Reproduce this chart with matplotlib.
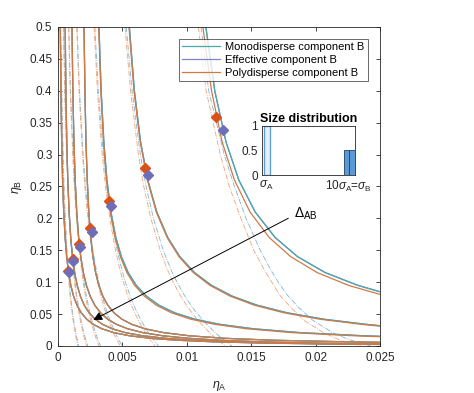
import matplotlib
matplotlib.use("Agg")
import matplotlib.pyplot as plt
from matplotlib.lines import Line2D

plt.rcParams['font.family'] = ['Liberation Sans', 'DejaVu Sans']
plt.rcParams['mathtext.fontset'] = 'custom'
plt.rcParams['mathtext.rm'] = 'Liberation Sans'
plt.rcParams['mathtext.it'] = 'Liberation Sans:italic'
plt.rcParams['mathtext.bf'] = 'Liberation Sans:bold'

# ---------------- data ----------------
# binodal curves (solid), y values shared by most families
y_bin = [0.5, 0.4, 0.32, 0.26, 0.21, 0.17, 0.14, 0.115, 0.095, 0.078, 0.064,
         0.052, 0.042, 0.034, 0.027, 0.021, 0.016, 0.012, 0.009, 0.0065, 0.0045, 0.003]

f1_x = [0.000176, 0.000224, 0.000285, 0.000354, 0.000443, 0.00055, 0.000671, 0.000819,
        0.000992, 0.001209, 0.001471, 0.001805, 0.002225, 0.00273, 0.003406, 0.004319,
        0.005558, 0.007211, 0.009276, 0.012181, 0.016248, 0.02167, 0.025]
f1_y = y_bin + [0.0024]
f2_x = [0.000555, 0.000611, 0.00068, 0.00076, 0.000861, 0.000984, 0.001123, 0.001292,
        0.00149, 0.001736, 0.002034, 0.002412, 0.002886, 0.003453, 0.004207, 0.005218,
        0.006575, 0.00836, 0.010549, 0.013555, 0.017623, 0.022811, 0.025]
f2_y = y_bin + [0.00256]
f3_x = [0.001085, 0.001152, 0.001236, 0.001332, 0.001453, 0.001601, 0.001766, 0.001968,
        0.002205, 0.002498, 0.002852, 0.0033, 0.003859, 0.004526, 0.005406, 0.006578,
        0.008135, 0.010154, 0.01259, 0.01586, 0.02016, 0.025]
f3_y = y_bin[:21] + [0.0031]
f4_x = [0.00202, 0.00209, 0.00217, 0.00227, 0.00239, 0.00254, 0.00271, 0.00292, 0.00317,
        0.00348, 0.00386, 0.00435, 0.00496, 0.00572, 0.00675, 0.00818, 0.01019, 0.013,
        0.01675, 0.02252, 0.025]
f4_y = y_bin[:20] + [0.00581]
f5_poly_x = [0.00316, 0.00332, 0.00353, 0.00376, 0.00406, 0.00443, 0.00484, 0.00535, 0.00595,
             0.00671, 0.00763, 0.00881, 0.01031, 0.01215, 0.01465, 0.01812, 0.023, 0.025]
f5_poly_y = y_bin[:17] + [0.01458]
f5_mono_x = [0.00318, 0.00335, 0.00356, 0.0038, 0.00411, 0.00449, 0.00492, 0.00545, 0.00608,
             0.00687, 0.00783, 0.00906, 0.01062, 0.01254, 0.01516, 0.01879, 0.02379, 0.025]
f5_mono_y = y_bin[:17] + [0.0152]
f6_poly_x = [0.00551, 0.0059, 0.00638, 0.00694, 0.00763, 0.00847, 0.00939, 0.01051, 0.0118,
             0.01338, 0.01524, 0.01755, 0.02033, 0.02353, 0.025]
f6_poly_y = y_bin[:14] + [0.0311]
f6_mono_x = [0.00554, 0.00593, 0.00641, 0.00697, 0.00767, 0.00852, 0.00946, 0.0106, 0.01192,
             0.01354, 0.01545, 0.0178, 0.02063, 0.0239, 0.025]
f6_mono_y = y_bin[:14] + [0.0318]
f7_poly_x = [0.01125, 0.01192, 0.01274, 0.0137, 0.01491, 0.0164, 0.01807, 0.02013, 0.02256, 0.025]
f7_poly_y = y_bin[:9] + [0.0809]
f7_mono_x = [0.01148, 0.01217, 0.01304, 0.01404, 0.01531, 0.01686, 0.0186, 0.02075, 0.02329, 0.025]
f7_mono_y = y_bin[:9] + [0.0850]

# spinodal-like dash-dot curves
y_sp = [0.5, 0.4, 0.3, 0.25, 0.2, 0.15, 0.12, 0.1, 0.08, 0.06, 0.04, 0.02, 0.01, 0.0]
sp1_mono = [0.00021, 0.00029, 0.0004, 0.00047, 0.00057, 0.0007, 0.0008, 0.00088, 0.00097, 0.00108, 0.00122, 0.00139, 0.00149, 0.0016]
sp1_poly = [0.0002, 0.00027, 0.00038, 0.00045, 0.00055, 0.00067, 0.00077, 0.00084, 0.00093, 0.00104, 0.00117, 0.00134, 0.00143, 0.00154]
sp2_mono = [0.00043, 0.00053, 0.00068, 0.00078, 0.00091, 0.00109, 0.00122, 0.00133, 0.00145, 0.00161, 0.00179, 0.00201, 0.00215, 0.0023]
sp2_poly = [0.00042, 0.00052, 0.00066, 0.00076, 0.00088, 0.00105, 0.00118, 0.00128, 0.00141, 0.00155, 0.00173, 0.00195, 0.00207, 0.00222]
sp3_mono = [0.00084, 0.00097, 0.00117, 0.0013, 0.00147, 0.0017, 0.00188, 0.00202, 0.00219, 0.00239, 0.00263, 0.00292, 0.0031, 0.0033]
sp3_poly = [0.00082, 0.00095, 0.00114, 0.00126, 0.00143, 0.00165, 0.00182, 0.00195, 0.00211, 0.0023, 0.00253, 0.00282, 0.00299, 0.00318]
sp4_mono = [0.00148, 0.00167, 0.00195, 0.00214, 0.00239, 0.00271, 0.00297, 0.00317, 0.00341, 0.00369, 0.00404, 0.00446, 0.00471, 0.005]
sp4_poly = [0.00145, 0.00163, 0.0019, 0.00208, 0.00232, 0.00263, 0.00288, 0.00307, 0.0033, 0.00358, 0.00391, 0.00431, 0.00456, 0.00483]
sp5_mono = [0.00286, 0.00313, 0.00352, 0.00379, 0.00413, 0.00459, 0.00495, 0.00523, 0.00557, 0.00597, 0.00645, 0.00704, 0.0074, 0.0078]
sp5_poly = [0.0028, 0.00306, 0.00343, 0.00369, 0.00402, 0.00446, 0.0048, 0.00507, 0.00539, 0.00577, 0.00624, 0.00681, 0.00715, 0.00753]
sp6_mono = [0.0053, 0.00575, 0.00639, 0.00684, 0.00741, 0.00817, 0.00876, 0.00924, 0.00979, 0.01045, 0.01126, 0.01225, 0.01283, 0.0135]
sp6_poly = [0.0052, 0.00563, 0.00624, 0.00666, 0.00721, 0.00793, 0.00849, 0.00894, 0.00947, 0.0101, 0.01087, 0.01181, 0.01237, 0.013]
sp7_mono = [0.0111, 0.0117, 0.0129, 0.0137, 0.0146, 0.0157, 0.0165, 0.0171, 0.0178, 0.0187, 0.0198, 0.0214, 0.0226, 0.0243]
sp7_poly = [0.0109, 0.0115, 0.0126, 0.0133, 0.0142, 0.0152, 0.016, 0.0166, 0.0172, 0.0181, 0.0191, 0.0207, 0.0218, 0.0235]

# critical points
crit_poly_x = [0.0008, 0.00114, 0.00165, 0.00248, 0.00394, 0.00673, 0.01229]
crit_poly_y = [0.1176, 0.1368, 0.1599, 0.1850, 0.2278, 0.2795, 0.3594]
crit_eff_x = [0.00083, 0.00119, 0.00173, 0.00262, 0.00414, 0.00697, 0.01279]
crit_eff_y = [0.1160, 0.1338, 0.1557, 0.1793, 0.2194, 0.2675, 0.3386]

# inset size distribution
size_pos = [1.15, 9.95, 10.55]
size_frac = [1.0, 0.5, 0.5]
size_ticks = [1.1, 10.2]
size_labels = [r'$\sigma_{\rm A}$', r'10$\sigma_{\rm A}$=$\sigma_{\rm B}$']

x_ticks = [0, 0.005, 0.01, 0.015, 0.02, 0.025]
x_ticklabels = ['0', '0.005', '0.01', '0.015', '0.02', '0.025']
y_ticks = [0, 0.05, 0.1, 0.15, 0.2, 0.25, 0.3, 0.35, 0.4, 0.45, 0.5]
y_ticklabels = ['0', '0.05', '0.1', '0.15', '0.2', '0.25', '0.3', '0.35', '0.4', '0.45', '0.5']

# ---------------- styling ----------------
c_mono = '#4BA9AC'
c_eff = '#8282C8'
c_poly = '#CF7A46'
c_sp_mono = '#7FB6D2'
c_sp_poly = '#EFA57A'
dark = '#262626'

fig = plt.figure(figsize=(4.74, 3.93), dpi=100)
ax = fig.add_axes([0.1224, 0.1196, 0.6793, 0.8117])

sp_mono = [sp1_mono, sp2_mono, sp3_mono, sp4_mono, sp5_mono, sp6_mono, sp7_mono]
sp_poly = [sp1_poly, sp2_poly, sp3_poly, sp4_poly, sp5_poly, sp6_poly, sp7_poly]
for xm, xp in zip(sp_mono, sp_poly):
    ax.plot(xm, y_sp, linestyle='-.', color=c_sp_mono, lw=0.6)
    ax.plot(xp, y_sp, linestyle='-.', color=c_sp_poly, lw=0.6)

mono_curves = [(f1_x, f1_y), (f2_x, f2_y), (f3_x, f3_y), (f4_x, f4_y),
               (f5_mono_x, f5_mono_y), (f6_mono_x, f6_mono_y), (f7_mono_x, f7_mono_y)]
poly_curves = [(f1_x, f1_y), (f2_x, f2_y), (f3_x, f3_y), (f4_x, f4_y),
               (f5_poly_x, f5_poly_y), (f6_poly_x, f6_poly_y), (f7_poly_x, f7_poly_y)]
for (xm, ym) in mono_curves:
    ax.plot(xm, ym, color=c_eff, lw=0.9)
    ax.plot(xm, ym, color=c_mono, lw=0.9)
for (xp, yp) in poly_curves:
    ax.plot(xp, yp, color=c_poly, lw=0.9)

ax.plot(crit_poly_x, crit_poly_y, linestyle='none', marker='D', ms=5,
        mfc='#D95319', mec='#D95319')
ax.plot(crit_eff_x, crit_eff_y, linestyle='none', marker='D', ms=5,
        mfc='#6E6EB8', mec='#6E6EB8')

ax.set_xlim(0, 0.025)
ax.set_ylim(0, 0.5)
ax.set_xticks(x_ticks)
ax.set_xticklabels(x_ticklabels)
ax.set_yticks(y_ticks)
ax.set_yticklabels(y_ticklabels)
ax.tick_params(direction='in', length=3, width=0.6, top=True, right=True,
               labelsize=8.5, colors=dark, pad=4)
for s in ax.spines.values():
    s.set_linewidth(0.6)
    s.set_color(dark)
ax.set_xlabel(r'$\eta_{\rm A}$', fontsize=9, color=dark, labelpad=11)
ax.set_ylabel(r'$\eta_{\rm B}$', fontsize=9, color=dark, labelpad=4)

# arrow + label
ax.annotate('', xy=(0.00274, 0.0408), xytext=(0.01788, 0.2002),
            arrowprops=dict(arrowstyle='-|>', color='black', lw=0.7,
                            mutation_scale=13, shrinkA=0, shrinkB=0))
ax.text(0.0183, 0.2065, r'$\Delta_{\rm AB}$', fontsize=10, ha='left', va='center',
        color='black')

handles = [Line2D([], [], color=c_mono, lw=0.9),
           Line2D([], [], color=c_eff, lw=0.9),
           Line2D([], [], color=c_poly, lw=0.9)]
leg = ax.legend(handles, ['Monodisperse component B', 'Effective component B',
                          'Polydisperse component B'],
                loc='upper right', bbox_to_anchor=(0.962, 0.963), fontsize=8,
                frameon=True, fancybox=False, handlelength=3.4, borderpad=0.3,
                labelspacing=0.25, handletextpad=0.5, borderaxespad=0)
leg.get_frame().set_edgecolor(dark)
leg.get_frame().set_linewidth(0.6)

# inset
ins = fig.add_axes([0.5527, 0.5547, 0.1962, 0.1247])
ins.bar(size_pos[:1], size_frac[:1], width=0.75, facecolor='#E4EFF9',
        edgecolor='#5B9BD5', lw=0.9)
ins.bar(size_pos[1:], size_frac[1:], width=0.6, facecolor='#5B9BD5',
        edgecolor='#1F3F66', lw=0.6)
ins.set_xlim(0.6, 10.9)
ins.set_ylim(0, 1)
ins.set_yticks([0, 0.5, 1])
ins.set_yticklabels(['0', '0.5', '1'])
ins.set_xticks(size_ticks)
ins.set_xticklabels(size_labels)
ins.tick_params(length=0, labelsize=8.5, colors=dark, pad=3)
for s in ins.spines.values():
    s.set_linewidth(0.6)
    s.set_color(dark)
ins.set_title('Size distribution', fontsize=9, fontweight='bold', pad=3, color='black')

fig.savefig('out.png', dpi=100, facecolor='white')
